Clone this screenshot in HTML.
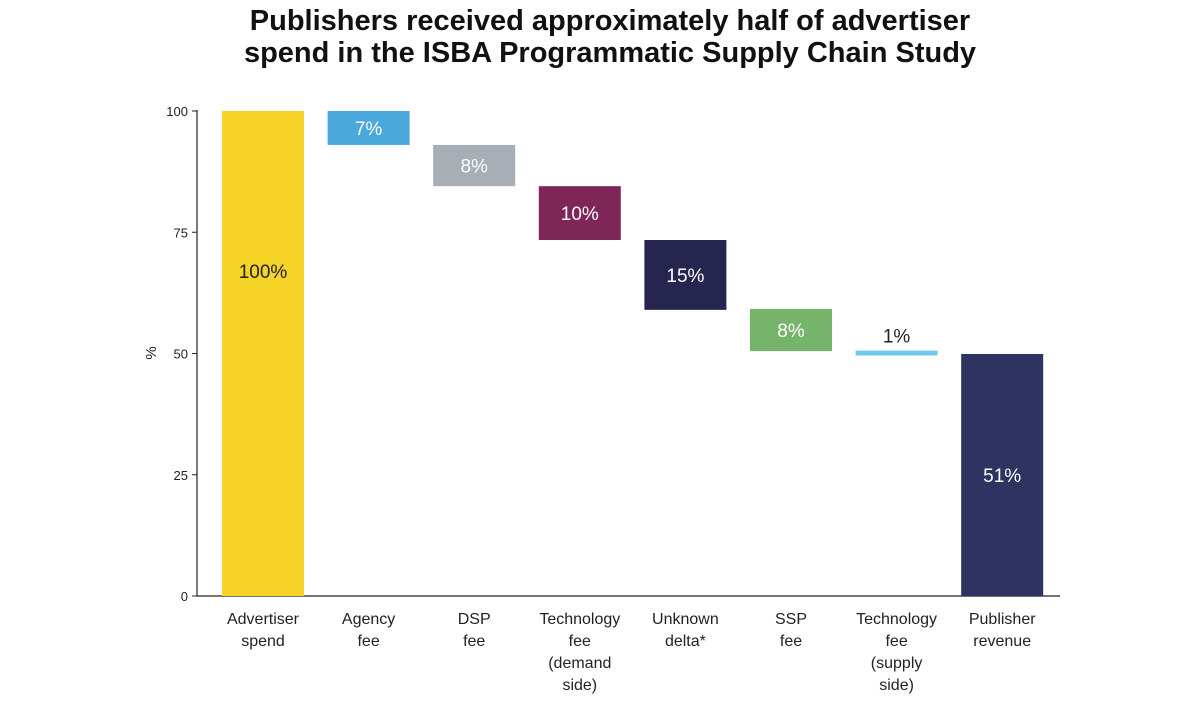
<!DOCTYPE html>
<html><head><meta charset="utf-8"><style>
body{margin:0;background:#fff;width:1200px;height:700px;overflow:hidden;font-family:"Liberation Sans",sans-serif}
</style></head><body>
<svg width="1200" height="700">
<text x="610" y="30" text-anchor="middle" font-size="29" font-weight="bold" fill="#111">Publishers received approximately half of advertiser</text>
<text x="610" y="62" text-anchor="middle" font-size="29" font-weight="bold" fill="#111">spend in the ISBA Programmatic Supply Chain Study</text>
<g id="plot"></g>
</svg>
<script>
const categories=[["Advertiser","spend"],["Agency","fee"],["DSP","fee"],["Technology","fee","(demand","side)"],["Unknown","delta*"],["SSP","fee"],["Technology","fee","(supply","side)"],["Publisher","revenue"]];
const lows=[0,93,84.5,73.4,59,50.5,49.6,0];
const highs=[100,100,93,84.5,73.4,59.2,50.6,49.9];
const labels=["100%","7%","8%","10%","15%","8%","1%","51%"];
const colors=["#F6D327","#4AA8DC","#A8AEB5","#7E2658","#26254F","#76B36B","#6FC7EA","#2E3361"];
const yTicks=[0,25,50,75,100];
const NS="http://www.w3.org/2000/svg";
const g=document.getElementById('plot');
const y=v=>596-v*4.85;
const x=i=>222+i*105.6;
const bw=82;
function el(t,a){const e=document.createElementNS(NS,t);for(const k in a)e.setAttribute(k,a[k]);g.appendChild(e);return e;}
let ax=el('line',{x1:197,y1:110,x2:197,y2:596,stroke:'#222','stroke-width':1.2});


let xa=el('line',{x1:197,y1:596,x2:1060,y2:596,stroke:'#222','stroke-width':1.2});


yTicks.forEach(v=>{
 let t=el('line',{x1:192,x2:197,y1:y(v),y2:y(v),stroke:'#222'});
 
 
 let l=el('text',{x:188,y:y(v)+5,'text-anchor':'end','font-size':13,fill:'#222'});
 l.textContent=v;
 
 
});
let yt=el('text',{x:0,y:0,'font-size':15,fill:'#222','text-anchor':'middle',transform:'translate(156,353) rotate(-90)'});
yt.textContent='%';


categories.forEach((c,i)=>{
 const top=y(highs[i]),bot=y(lows[i]);
 let r=el('rect',{x:x(i),y:top,width:bw,height:Math.max(bot-top,3),fill:colors[i]});
 
 
 const thin=(bot-top)<20;
 const ly=thin?top-8:(i===0?top+(bot-top)*0.33+7:(top+bot)/2+7);
 let lt=el('text',{x:x(i)+bw/2,y:ly,'text-anchor':'middle','font-size':19,fill:thin?'#222':(i===0?'#222':'#fff')});
 lt.textContent=labels[i];
 
 
 c.forEach((s,j)=>{
  let ct=el('text',{x:x(i)+bw/2,y:624+j*22,'text-anchor':'middle','font-size':16,fill:'#222'});
  ct.textContent=s;
  
  
 });
});
</script>
</body></html>
